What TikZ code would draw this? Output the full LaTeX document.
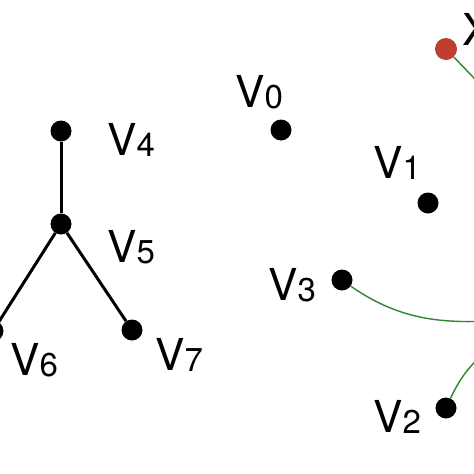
\documentclass[tikz,border=0pt]{standalone}
\usepackage{fontspec}
\setmainfont{TeX Gyre Heros}
\usetikzlibrary{positioning}
\definecolor{dotred}{RGB}{190,62,48}
\definecolor{edgegreen}{RGB}{46,135,46}
\newcommand{\vname}[1]{V\raisebox{-1.5pt}{\fontsize{33}{33}\selectfont #1}}
\tikzset{
  vert/.style={circle,fill=black,inner sep=0pt,minimum size=21pt},
  xvert/.style={circle,fill=dotred,inner sep=0pt,minimum size=22pt},
  tree/.style={line width=3pt},
  link/.style={edgegreen,line width=1.4pt},
  vlab/.style={font=\fontsize{44}{44}\selectfont,inner sep=0pt,anchor=base west},
}
\begin{document}
\begin{tikzpicture}[x=1pt,y=-1pt]
  \useasboundingbox (0,0) rectangle (474,474);
  \clip (0,0) rectangle (474,474);
  \fill[white] (0,0) rectangle (474,474);
  % left tree
  \node[vert] (v4) at (61,131) {};
  \node[vert] (v5) at (61,224) {};
  \node[vert] (v6) at (-7,331) {};
  \node[vert] (v7) at (132,330) {};
  \draw[tree] (v4) -- (v5);
  \draw[tree] (v5) -- (v6);
  \draw[tree] (v5) -- (v7);
  \node[vlab] (l4) at (107,155) {\vname{4}};
  \node[vlab] (l5) at (107,262) {\vname{5}};
  \node[vlab] (l6) at (10,375) {\vname{6}};
  \node[vlab] (l7) at (155,370) {\vname{7}};
  % right part
  \node[vert] (v0) at (281,130) {};
  \node[vert] (v1) at (428,203) {};
  \node[vert] (v3) at (342,280) {};
  \node[vert] (v2) at (446,408) {};
  \node[xvert] (x) at (446,49) {};
  \node[vlab] (l0) at (235,107) {\vname{0}};
  \node[vlab] (l1) at (373,178) {\vname{1}};
  \node[vlab] (l3) at (268,300) {\vname{3}};
  \node[vlab] (l2) at (373,432) {\vname{2}};
  \node[vlab] (lx) at (462,45) {X};
  % links leaving the frame
  \coordinate (ex) at (500,105);
  \coordinate (e3) at (530,318);
  \coordinate (e2) at (520,335);
  \draw[link] (x) -- (ex);
  \draw[link] (v3) to[out=-35,in=185] (e3);
  \draw[link] (v2) to[out=65,in=200] (e2);
\end{tikzpicture}
\end{document}
